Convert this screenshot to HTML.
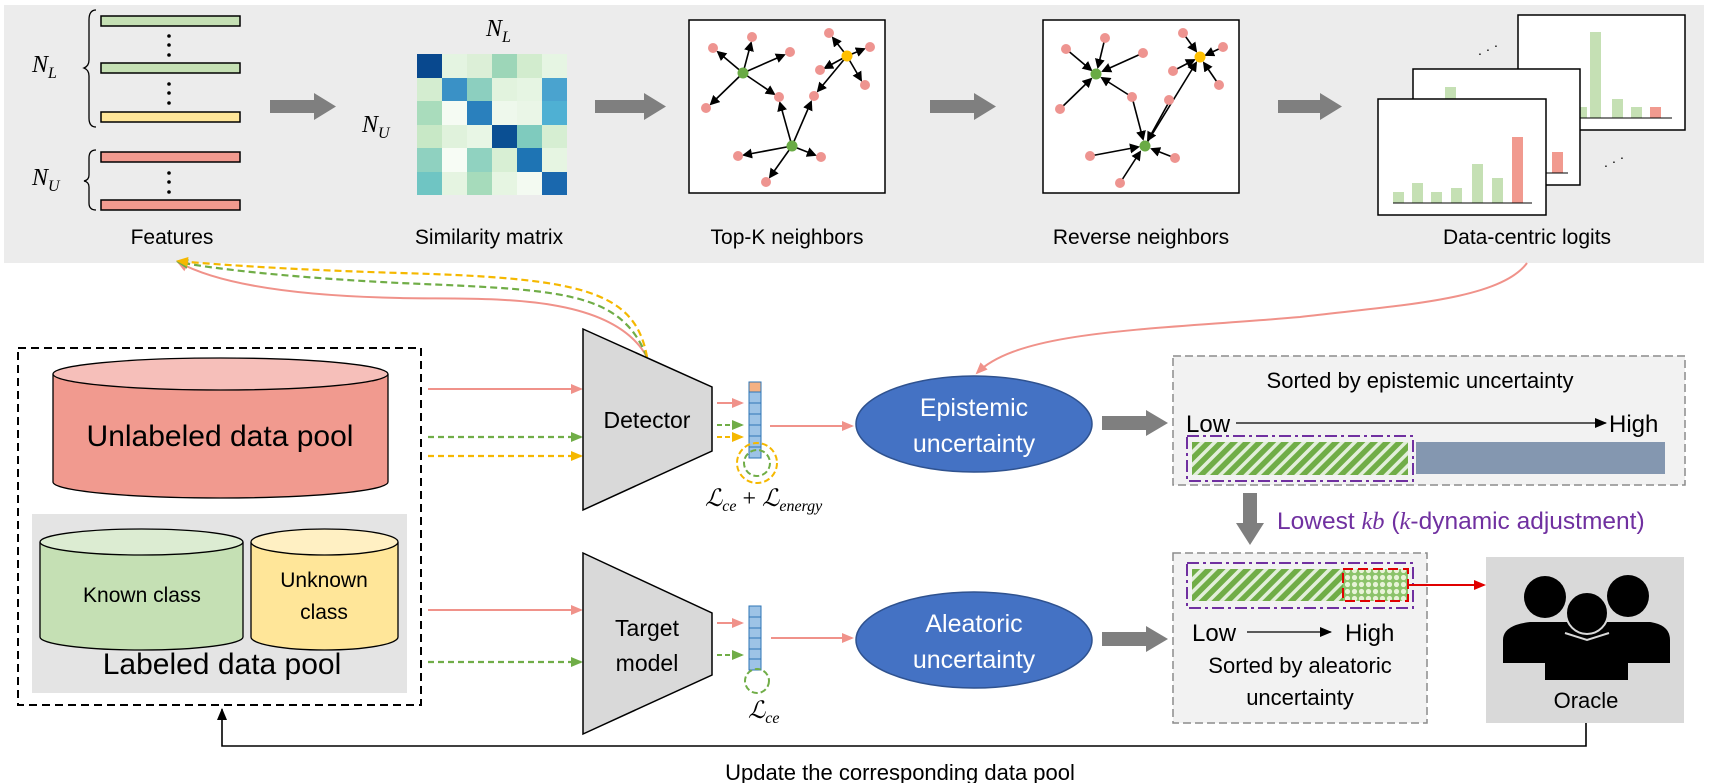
<!DOCTYPE html>
<html><head><meta charset="utf-8"><style>
html,body{margin:0;padding:0;background:#fff;}
svg{display:block;font-family:"Liberation Sans",sans-serif;}
</style></head><body>
<svg width="1710" height="783" viewBox="0 0 1710 783" xmlns="http://www.w3.org/2000/svg">
<defs>
<pattern id="hatch" width="9" height="9" patternUnits="userSpaceOnUse" patternTransform="rotate(45)">
<rect width="9" height="9" fill="#70ad47"/><rect width="3.5" height="9" fill="#e2efda"/>
</pattern>
<pattern id="dots" width="7" height="7" patternUnits="userSpaceOnUse">
<rect width="7" height="7" fill="#8cc36a"/><circle cx="3.5" cy="3.5" r="2.6" fill="#e8f3d8"/>
</pattern>
<marker id="ab" markerWidth="10" markerHeight="10" refX="8" refY="5" orient="auto" markerUnits="userSpaceOnUse"><path d="M0,0 L10,5 L0,10 z" fill="#000"/></marker>
<marker id="ap" markerWidth="12" markerHeight="12" refX="10" refY="6" orient="auto" markerUnits="userSpaceOnUse"><path d="M0,1 L12,6 L0,11 z" fill="#f0928a"/></marker>
<marker id="ag" markerWidth="12" markerHeight="12" refX="10" refY="6" orient="auto" markerUnits="userSpaceOnUse"><path d="M0,1 L12,6 L0,11 z" fill="#70ad47"/></marker>
<marker id="ay" markerWidth="12" markerHeight="12" refX="10" refY="6" orient="auto" markerUnits="userSpaceOnUse"><path d="M0,1 L12,6 L0,11 z" fill="#f5b800"/></marker>
<marker id="ar" markerWidth="12" markerHeight="12" refX="10" refY="6" orient="auto" markerUnits="userSpaceOnUse"><path d="M0,1 L12,6 L0,11 z" fill="#e00000"/></marker>
<marker id="an" markerWidth="12" markerHeight="12" refX="11" refY="6" orient="auto" markerUnits="userSpaceOnUse"><path d="M0,1 L12,6 L0,11 z" fill="#000"/></marker>
</defs>

<rect x="4" y="5" width="1700" height="258" fill="#ececec"/>

<g stroke="#000" stroke-width="1.5">
<rect x="101" y="16" width="139" height="10" fill="#c5e0b4"/>
<rect x="101" y="63" width="139" height="10" fill="#c5e0b4"/>
<rect x="101" y="112" width="139" height="10" fill="#ffe699"/>
<rect x="101" y="152" width="139" height="10" fill="#f19a8f"/>
<rect x="101" y="200" width="139" height="10" fill="#f19a8f"/>
</g>
<g fill="#000">
<circle cx="169" cy="36" r="1.8"/><circle cx="169" cy="45" r="1.8"/><circle cx="169" cy="55" r="1.8"/>
<circle cx="169" cy="84" r="1.8"/><circle cx="169" cy="93" r="1.8"/><circle cx="169" cy="103" r="1.8"/>
<circle cx="169" cy="173" r="1.8"/><circle cx="169" cy="182" r="1.8"/><circle cx="169" cy="192" r="1.8"/>
</g>
<path d="M96,10 Q89,10 89,20 L89,60 Q89,66 84,68 Q89,70 89,76 L89,118 Q89,127 96,127" fill="none" stroke="#000" stroke-width="1.3"/>
<path d="M96,150 Q89,150 89,158 L89,175 Q89,180 84,181 Q89,182 89,187 L89,203 Q89,210 96,210" fill="none" stroke="#000" stroke-width="1.3"/>
<text x="32" y="72" font-family="Liberation Serif" font-style="italic" font-size="24">N<tspan font-size="16" dy="6">L</tspan></text>
<text x="32" y="185" font-family="Liberation Serif" font-style="italic" font-size="24">N<tspan font-size="16" dy="6">U</tspan></text>
<text x="172" y="244" font-size="21" text-anchor="middle">Features</text>

<g fill="#7f7f7f">
<polygon points="270,100 314,100 314,93 336,106.5 314,120 314,113 270,113"/>
<polygon points="595,100 644,100 644,93 666,106.5 644,120 644,113 595,113"/>
<polygon points="930,100 974,100 974,93 996,106.5 974,120 974,113 930,113"/>
<polygon points="1278,100 1320,100 1320,93 1342,106.5 1320,120 1320,113 1278,113"/>
</g>

<g>
<rect x="417" y="54" width="25" height="24" fill="#08488e"/><rect x="442" y="54" width="25" height="24" fill="#e4f4e1"/><rect x="467" y="54" width="25" height="24" fill="#dcefd7"/><rect x="492" y="54" width="25" height="24" fill="#9dd6b8"/><rect x="517" y="54" width="25" height="24" fill="#d2ecce"/><rect x="542" y="54" width="25" height="24" fill="#e6f5e3"/>
<rect x="417" y="78" width="25" height="23" fill="#d4edd0"/><rect x="442" y="78" width="25" height="23" fill="#3a91c6"/><rect x="467" y="78" width="25" height="23" fill="#8ccfbf"/><rect x="492" y="78" width="25" height="23" fill="#e2f3de"/><rect x="517" y="78" width="25" height="23" fill="#e6f5e3"/><rect x="542" y="78" width="25" height="23" fill="#4aa3cf"/>
<rect x="417" y="101" width="25" height="24" fill="#a9dcbc"/><rect x="442" y="101" width="25" height="24" fill="#f5fbf3"/><rect x="467" y="101" width="25" height="24" fill="#2a80bd"/><rect x="492" y="101" width="25" height="24" fill="#eef8ec"/><rect x="517" y="101" width="25" height="24" fill="#eaf6e7"/><rect x="542" y="101" width="25" height="24" fill="#4fb0d3"/>
<rect x="417" y="125" width="25" height="23" fill="#c8e8c6"/><rect x="442" y="125" width="25" height="23" fill="#e0f2dc"/><rect x="467" y="125" width="25" height="23" fill="#e8f6e5"/><rect x="492" y="125" width="25" height="23" fill="#0a4f93"/><rect x="517" y="125" width="25" height="23" fill="#7fcbbe"/><rect x="542" y="125" width="25" height="23" fill="#d6eed2"/>
<rect x="417" y="148" width="25" height="24" fill="#8fd1c0"/><rect x="442" y="148" width="25" height="24" fill="#f7fcf5"/><rect x="467" y="148" width="25" height="24" fill="#90d2c0"/><rect x="492" y="148" width="25" height="24" fill="#d8efd4"/><rect x="517" y="148" width="25" height="24" fill="#1e74b4"/><rect x="542" y="148" width="25" height="24" fill="#e6f5e2"/>
<rect x="417" y="172" width="25" height="23" fill="#6fc5c3"/><rect x="442" y="172" width="25" height="23" fill="#e5f4e1"/><rect x="467" y="172" width="25" height="23" fill="#a6dbbb"/><rect x="492" y="172" width="25" height="23" fill="#e6f5e2"/><rect x="517" y="172" width="25" height="23" fill="#f3faf1"/><rect x="542" y="172" width="25" height="23" fill="#1a68ae"/>
</g>
<text x="486" y="36" font-family="Liberation Serif" font-style="italic" font-size="24">N<tspan font-size="16" dy="6">L</tspan></text>
<text x="362" y="132" font-family="Liberation Serif" font-style="italic" font-size="24">N<tspan font-size="16" dy="6">U</tspan></text>
<text x="489" y="244" font-size="21" text-anchor="middle">Similarity matrix</text>

<rect x="689" y="20" width="196" height="173" fill="#fff" stroke="#000" stroke-width="1.5"/>
<g stroke="#000" stroke-width="1.6" marker-end="url(#ab)">
<line x1="743" y1="73" x2="718" y2="52"/><line x1="743" y1="73" x2="751" y2="43"/><line x1="743" y1="73" x2="784" y2="55"/><line x1="743" y1="73" x2="711" y2="104"/><line x1="743" y1="73" x2="774" y2="94"/>
<line x1="847" y1="56" x2="833" y2="38"/><line x1="847" y1="56" x2="864" y2="49"/><line x1="847" y1="56" x2="825" y2="68"/><line x1="847" y1="56" x2="861" y2="80"/><line x1="847" y1="56" x2="818" y2="91"/>
<line x1="792" y1="146" x2="780" y2="103"/><line x1="792" y1="146" x2="811" y2="102"/><line x1="792" y1="146" x2="744" y2="155"/><line x1="792" y1="146" x2="815" y2="155"/><line x1="792" y1="146" x2="770" y2="177"/>
</g>
<g fill="#ee9490">
<circle cx="713" cy="48" r="5"/><circle cx="752" cy="37" r="5"/><circle cx="790" cy="52" r="5"/><circle cx="706" cy="108" r="5"/><circle cx="779" cy="97" r="5"/><circle cx="829" cy="33" r="5"/><circle cx="870" cy="47" r="5"/><circle cx="820" cy="70" r="5"/><circle cx="865" cy="85" r="5"/><circle cx="814" cy="96" r="5"/><circle cx="738" cy="156" r="5"/><circle cx="821" cy="157" r="5"/><circle cx="766" cy="182" r="5"/>
</g>
<circle cx="743" cy="73" r="5.5" fill="#6aab45"/><circle cx="847" cy="56" r="5.5" fill="#ffc000"/><circle cx="792" cy="146" r="5.5" fill="#6aab45"/>
<text x="787" y="244" font-size="21" text-anchor="middle">Top-K neighbors</text>

<rect x="1043" y="20" width="196" height="173" fill="#fff" stroke="#000" stroke-width="1.5"/>
<g stroke="#000" stroke-width="1.6" marker-end="url(#ab)">
<line x1="1066" y1="49" x2="1091" y2="70"/><line x1="1105" y1="38" x2="1098" y2="67"/><line x1="1143" y1="53" x2="1103" y2="71"/><line x1="1060" y1="109" x2="1091" y2="79"/><line x1="1132" y1="97" x2="1102" y2="78"/>
<line x1="1183" y1="33" x2="1196" y2="51"/><line x1="1223" y1="47" x2="1206" y2="55"/><line x1="1173" y1="71" x2="1194" y2="60"/><line x1="1219" y1="85" x2="1204" y2="63"/><line x1="1145" y1="146" x2="1196" y2="63"/>
<line x1="1132" y1="97" x2="1143" y2="139"/><line x1="1169" y1="102" x2="1148" y2="140"/><line x1="1090" y1="156" x2="1138" y2="147"/><line x1="1120" y1="183" x2="1140" y2="152"/><line x1="1175" y1="158" x2="1152" y2="149"/>
</g>
<g fill="#ee9490">
<circle cx="1066" cy="49" r="5"/><circle cx="1105" cy="38" r="5"/><circle cx="1143" cy="53" r="5"/><circle cx="1060" cy="109" r="5"/><circle cx="1132" cy="97" r="5"/><circle cx="1183" cy="33" r="5"/><circle cx="1223" cy="47" r="5"/><circle cx="1173" cy="71" r="5"/><circle cx="1219" cy="85" r="5"/><circle cx="1169" cy="100" r="5"/><circle cx="1090" cy="156" r="5"/><circle cx="1120" cy="183" r="5"/><circle cx="1175" cy="158" r="5"/>
</g>
<circle cx="1096" cy="74" r="5.5" fill="#6aab45"/><circle cx="1200" cy="57" r="5.5" fill="#ffc000"/><circle cx="1145" cy="146" r="5.5" fill="#6aab45"/>
<text x="1141" y="244" font-size="21" text-anchor="middle">Reverse neighbors</text>

<text x="1478" y="55" font-size="14">.</text><text x="1486" y="51" font-size="14">.</text><text x="1494" y="47" font-size="14">.</text>
<text x="1604" y="167" font-size="14">.</text><text x="1612" y="163" font-size="14">.</text><text x="1620" y="159" font-size="14">.</text>
<rect x="1518" y="15" width="167" height="115" fill="#fff" stroke="#000" stroke-width="1.5"/>
<g fill="#c5e0b4"><rect x="1576" y="107" width="11" height="11"/><rect x="1590" y="32" width="11" height="86"/><rect x="1612" y="99" width="11" height="19"/><rect x="1631" y="107" width="11" height="11"/></g>
<rect x="1650" y="107" width="11" height="11" fill="#f19a8f"/>
<line x1="1570" y1="118" x2="1672" y2="118" stroke="#000" stroke-width="1"/>
<rect x="1413" y="69" width="167" height="116" fill="#fff" stroke="#000" stroke-width="1.5"/>
<rect x="1445" y="87" width="11" height="86" fill="#c5e0b4"/>
<rect x="1552" y="152" width="11" height="21" fill="#f19a8f"/>
<line x1="1540" y1="173" x2="1568" y2="173" stroke="#000" stroke-width="1"/>
<rect x="1378" y="99" width="168" height="116" fill="#fff" stroke="#000" stroke-width="1.5"/>
<g fill="#c5e0b4"><rect x="1393" y="192" width="11" height="11"/><rect x="1412" y="183" width="11" height="20"/><rect x="1431" y="192" width="11" height="11"/><rect x="1451" y="188" width="11" height="15"/><rect x="1472" y="164" width="11" height="39"/><rect x="1492" y="178" width="11" height="25"/></g>
<rect x="1512" y="137" width="11" height="66" fill="#f19a8f"/>
<line x1="1393" y1="203" x2="1532" y2="203" stroke="#000" stroke-width="1"/>
<text x="1527" y="244" font-size="21" text-anchor="middle">Data-centric logits</text>

<path d="M647,357 C610,290 480,300 400,298 C300,296 220,285 178,262" fill="none" stroke="#f0928a" stroke-width="2" marker-end="url(#ap)"/>
<path d="M647,357 C620,290 560,290 400,283 C300,278 220,270 178,262" fill="none" stroke="#70ad47" stroke-width="2.2" stroke-dasharray="7,4" marker-end="url(#ag)"/>
<path d="M647,357 C635,290 580,278 400,273 C300,270 220,265 178,261" fill="none" stroke="#f5b800" stroke-width="2.2" stroke-dasharray="7,4" marker-end="url(#ay)"/>
<path d="M1527,263 C1500,300 1400,305 1300,317 C1150,330 1020,330 977,373" fill="none" stroke="#f0928a" stroke-width="2" marker-end="url(#ap)"/>

<rect x="18" y="348" width="403" height="357" fill="none" stroke="#000" stroke-width="2" stroke-dasharray="8,5"/>
<path d="M53,374 L53,482 A167.5,16 0 0 0 388,482 L388,374" fill="#f19a8f" stroke="#000" stroke-width="1.3"/>
<ellipse cx="220.5" cy="374" rx="167.5" ry="16" fill="#f6bfba" stroke="#000" stroke-width="1.3"/>
<text x="220" y="446" font-size="30" text-anchor="middle">Unlabeled data pool</text>
<rect x="32" y="514" width="375" height="179" fill="#e4e4e4"/>
<path d="M40,542 L40,637 A101.5,13 0 0 0 243,637 L243,542" fill="#c5e0b4" stroke="#000" stroke-width="1.3"/>
<ellipse cx="141.5" cy="542" rx="101.5" ry="13" fill="#dcecd2" stroke="#000" stroke-width="1.3"/>
<path d="M251,542 L251,637 A73.5,13 0 0 0 398,637 L398,542" fill="#ffe699" stroke="#000" stroke-width="1.3"/>
<ellipse cx="324.5" cy="542" rx="73.5" ry="13" fill="#fff0c3" stroke="#000" stroke-width="1.3"/>
<text x="142" y="602" font-size="21" text-anchor="middle">Known class</text>
<text x="324" y="587" font-size="21" text-anchor="middle">Unknown</text>
<text x="324" y="619" font-size="21" text-anchor="middle">class</text>
<text x="222" y="674" font-size="30" text-anchor="middle">Labeled data pool</text>

<line x1="428" y1="389" x2="581" y2="389" stroke="#f0928a" stroke-width="2" marker-end="url(#ap)"/>
<line x1="428" y1="437" x2="581" y2="437" stroke="#70ad47" stroke-width="2.2" stroke-dasharray="6,4" marker-end="url(#ag)"/>
<line x1="428" y1="456" x2="581" y2="456" stroke="#f5b800" stroke-width="2.2" stroke-dasharray="6,4" marker-end="url(#ay)"/>
<line x1="428" y1="610" x2="581" y2="610" stroke="#f0928a" stroke-width="2" marker-end="url(#ap)"/>
<line x1="428" y1="662" x2="581" y2="662" stroke="#70ad47" stroke-width="2.2" stroke-dasharray="6,4" marker-end="url(#ag)"/>

<polygon points="583,329 712,387 712,451 583,510" fill="#d9d9d9" stroke="#000" stroke-width="1.5"/>
<text x="647" y="428" font-size="23" text-anchor="middle">Detector</text>
<polygon points="583,553 712,613 712,675 583,734" fill="#d9d9d9" stroke="#000" stroke-width="1.5"/>
<text x="647" y="636" font-size="23" text-anchor="middle">Target</text>
<text x="647" y="671" font-size="23" text-anchor="middle">model</text>

<line x1="717" y1="403" x2="742" y2="403" stroke="#f0928a" stroke-width="2" marker-end="url(#ap)"/>
<line x1="717" y1="425" x2="742" y2="425" stroke="#70ad47" stroke-width="2" stroke-dasharray="5,3" marker-end="url(#ag)"/>
<line x1="717" y1="437" x2="742" y2="437" stroke="#f5b800" stroke-width="2" stroke-dasharray="5,3" marker-end="url(#ay)"/>
<line x1="717" y1="623" x2="742" y2="623" stroke="#f0928a" stroke-width="2" marker-end="url(#ap)"/>
<line x1="717" y1="655" x2="742" y2="655" stroke="#70ad47" stroke-width="2" stroke-dasharray="5,3" marker-end="url(#ag)"/>

<rect x="749" y="382" width="12" height="10" fill="#f4b183" stroke="#2e75b6" stroke-width="1"/>
<g fill="#9dc3e6" stroke="#2e75b6" stroke-width="1">
<rect x="749" y="392" width="12" height="11"/><rect x="749" y="403" width="12" height="11"/><rect x="749" y="414" width="12" height="11"/><rect x="749" y="425" width="12" height="11"/><rect x="749" y="436" width="12" height="11"/><rect x="749" y="447" width="12" height="11"/>
<rect x="749" y="606" width="12" height="11"/><rect x="749" y="617" width="12" height="11"/><rect x="749" y="628" width="12" height="10"/><rect x="749" y="638" width="12" height="11"/><rect x="749" y="649" width="12" height="10"/><rect x="749" y="659" width="12" height="11"/>
</g>
<circle cx="757" cy="463" r="20" fill="none" stroke="#f5b800" stroke-width="2" stroke-dasharray="6,3"/>
<circle cx="757" cy="463" r="13" fill="none" stroke="#70ad47" stroke-width="2" stroke-dasharray="6,3"/>
<circle cx="757" cy="681" r="12" fill="none" stroke="#70ad47" stroke-width="2" stroke-dasharray="6,3"/>
<text x="705" y="506" font-family="Liberation Serif" font-style="italic" font-size="24">ℒ<tspan font-size="16" dy="5">ce</tspan><tspan dy="-5" font-style="normal"> + </tspan>ℒ<tspan font-size="16" dy="5">energy</tspan></text>
<text x="748" y="718" font-family="Liberation Serif" font-style="italic" font-size="24">ℒ<tspan font-size="16" dy="5">ce</tspan></text>

<line x1="770" y1="426" x2="852" y2="426" stroke="#f0928a" stroke-width="2" marker-end="url(#ap)"/>
<line x1="771" y1="638" x2="852" y2="638" stroke="#f0928a" stroke-width="2" marker-end="url(#ap)"/>

<ellipse cx="974" cy="424" rx="118" ry="48" fill="#4472c4" stroke="#2f528f" stroke-width="1.5"/>
<text x="974" y="416" font-size="25" fill="#fff" text-anchor="middle">Epistemic</text>
<text x="974" y="452" font-size="25" fill="#fff" text-anchor="middle">uncertainty</text>
<ellipse cx="974" cy="640" rx="118" ry="48" fill="#4472c4" stroke="#2f528f" stroke-width="1.5"/>
<text x="974" y="632" font-size="25" fill="#fff" text-anchor="middle">Aleatoric</text>
<text x="974" y="668" font-size="25" fill="#fff" text-anchor="middle">uncertainty</text>

<g fill="#7f7f7f">
<polygon points="1102,416 1146,416 1146,410 1168,423 1146,436 1146,430 1102,430"/>
<polygon points="1102,632 1146,632 1146,626 1168,639 1146,652 1146,646 1102,646"/>
<polygon points="1243,493 1257,493 1257,523 1264,523 1250,545 1236,523 1243,523"/>
</g>

<rect x="1173" y="356" width="512" height="129" fill="#f2f2f2" stroke="#8c8c8c" stroke-width="1.5" stroke-dasharray="8,4"/>
<text x="1420" y="388" font-size="22" text-anchor="middle">Sorted by epistemic uncertainty</text>
<text x="1186" y="432" font-size="24">Low</text>
<line x1="1236" y1="423" x2="1606" y2="423" stroke="#000" stroke-width="1.3" marker-end="url(#an)"/>
<text x="1609" y="432" font-size="24">High</text>
<rect x="1192" y="442" width="216" height="33" fill="url(#hatch)"/>
<rect x="1416" y="442" width="249" height="32" fill="#8497b0"/>
<rect x="1187" y="436" width="226" height="45" fill="none" stroke="#7030a0" stroke-width="2" stroke-dasharray="12,4,3,4"/>

<text x="1277" y="529" font-size="24.5" fill="#7030a0">Lowest <tspan font-family="Liberation Serif" font-style="italic">kb</tspan> (<tspan font-family="Liberation Serif" font-style="italic">k</tspan>-dynamic adjustment)</text>

<rect x="1173" y="553" width="254" height="170" fill="#f2f2f2" stroke="#8c8c8c" stroke-width="1.5" stroke-dasharray="8,4"/>
<rect x="1192" y="569" width="151" height="32" fill="url(#hatch)"/>
<rect x="1343" y="569" width="65" height="32" fill="url(#dots)"/>
<rect x="1343" y="569" width="65" height="32" fill="none" stroke="#e00000" stroke-width="2" stroke-dasharray="10,5"/>
<rect x="1187" y="563" width="226" height="45" fill="none" stroke="#7030a0" stroke-width="2" stroke-dasharray="12,4,3,4"/>
<text x="1192" y="641" font-size="24">Low</text>
<line x1="1247" y1="632" x2="1331" y2="632" stroke="#000" stroke-width="1.3" marker-end="url(#an)"/>
<text x="1345" y="641" font-size="24">High</text>
<text x="1300" y="673" font-size="22" text-anchor="middle">Sorted by aleatoric</text>
<text x="1300" y="705" font-size="22" text-anchor="middle">uncertainty</text>
<line x1="1408" y1="585" x2="1484" y2="585" stroke="#e00000" stroke-width="2" marker-end="url(#ar)"/>

<rect x="1486" y="557" width="198" height="166" fill="#d9d9d9"/>
<path d="M1503,663 L1503,640 Q1503,625 1530,622 L1650,622 Q1670,625 1670,640 L1670,663 L1628,663 L1628,680 L1545,680 L1545,663 Z" fill="#000"/>
<circle cx="1545" cy="597" r="21" fill="#000"/>
<circle cx="1628" cy="596" r="21" fill="#000"/>
<circle cx="1587" cy="613" r="21" fill="#000" stroke="#d9d9d9" stroke-width="2"/>
<path d="M1565,633 L1587,640 L1609,633" fill="none" stroke="#d9d9d9" stroke-width="2"/>
<text x="1586" y="708" font-size="22" text-anchor="middle">Oracle</text>

<polyline points="1586,723 1586,746 222,746 222,709" fill="none" stroke="#000" stroke-width="1.6" marker-end="url(#an)"/>
<text x="900" y="780" font-size="22" text-anchor="middle">Update the corresponding data pool</text>
</svg>
</body></html>
